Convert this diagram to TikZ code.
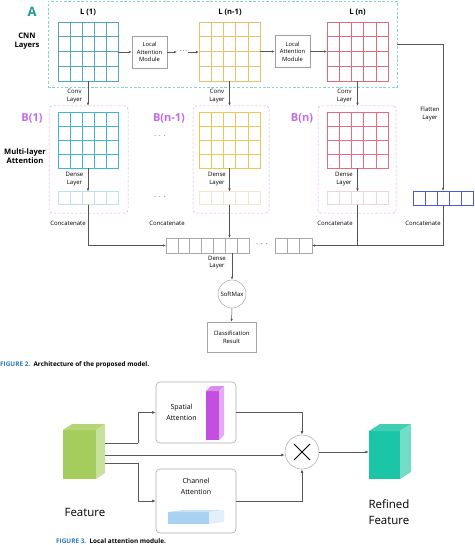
\documentclass[tikz,border=0pt]{standalone}
\usepackage{fontspec}
\setmainfont{Open Sans}
\usetikzlibrary{arrows.meta,calc}
\definecolor{tealA}{HTML}{1A9E8A}
\definecolor{tealdash}{HTML}{8AD3CB}
\definecolor{pinkdash}{HTML}{E3A6EC}
\definecolor{violetB}{HTML}{C26BE6}
\definecolor{cLa}{HTML}{55A7B8}
\definecolor{cLb}{HTML}{E6C270}
\definecolor{cLc}{HTML}{DC6D7B}
\definecolor{cBa}{HTML}{3FB6D4}
\definecolor{cBb}{HTML}{F0C652}
\definecolor{cBc}{HTML}{E86B80}
\definecolor{cDa}{HTML}{BFE1EE}
\definecolor{cDb}{HTML}{F5E6CE}
\definecolor{cDc}{HTML}{F1D3DD}
\definecolor{cFlat}{HTML}{4A5AD2}
\definecolor{cCat}{HTML}{A8A8A8}
\definecolor{capblue}{HTML}{2A78B8}
\definecolor{lineg}{HTML}{555555}
\definecolor{featF}{HTML}{A5CD5E}
\definecolor{featT}{HTML}{B5D676}
\definecolor{featS}{HTML}{C8E29C}
\definecolor{refF}{HTML}{1BC6A6}
\definecolor{refT}{HTML}{40CFB3}
\definecolor{refS}{HTML}{72DCC7}
\definecolor{purF}{HTML}{C24FE0}
\definecolor{purT}{HTML}{D88CF0}
\definecolor{purS}{HTML}{E4A9F4}
\definecolor{bluF}{HTML}{A9D2F2}
\definecolor{bluT}{HTML}{C8E2F7}
\definecolor{bluS}{HTML}{E4EFFB}
\newcommand\mkgrid[9]{%
  \node[draw=#8, line width=#9, minimum width=#4pt, minimum height=#5pt, inner sep=0pt, outer sep=0pt] (#1) at (#2,#3) {};
  \foreach \i in {1,...,#6}{\draw[#8, line width=#9] ($(#1.north west)!\i/#6!(#1.north east)$) -- ($(#1.south west)!\i/#6!(#1.south east)$);}
  \foreach \j in {1,...,#7}{\draw[#8, line width=#9] ($(#1.north west)!\j/#7!(#1.south west)$) -- ($(#1.north east)!\j/#7!(#1.south east)$);}
}
\tikzset{
  arr/.style={draw=lineg, line width=0.5pt, -{Latex[length=3pt,width=2.4pt]}},
  plain/.style={draw=lineg, line width=0.5pt},
  small/.style={font=\fontsize{6}{7.6}\selectfont, align=center, inner sep=0.5pt},
  lbl/.style={font=\bfseries\fontsize{7.6}{9.2}\selectfont, align=center, inner sep=0pt},
  blbl/.style={font=\bfseries\fontsize{11}{11}\selectfont, text=violetB, inner sep=0pt},
  lam/.style={draw=gray!75, fill=white, line width=0.5pt, align=center, minimum width=35pt, minimum height=32pt, inner sep=0pt, font=\fontsize{5.8}{7.6}\selectfont},
  pinkbox/.style={draw=pinkdash, dashed, dash pattern=on 2.5pt off 1.8pt, line width=0.5pt, rounded corners=3pt, minimum height=107pt, inner sep=0pt},
  rbox/.style={draw=gray!65, line width=0.6pt, rounded corners=4pt, fill=white, inner sep=0pt},
  barr/.style={draw=black!65, line width=0.6pt, -{Latex[length=3.5pt,width=2.8pt]}},
  bline/.style={draw=black!65, line width=0.6pt},
  dotsn/.style={font=\fontsize{6}{6}\selectfont, inner sep=0.5pt},
  captxt/.style={font=\bfseries\fontsize{6.4}{7}\selectfont, inner sep=0pt},
}
\begin{document}
\begin{tikzpicture}[x=1pt,y=-1pt]
\useasboundingbox (0,0) rectangle (474,545);
% ---------- CNN layers ----------
\node[draw=tealdash, dashed, dash pattern=on 2.5pt off 1.8pt, line width=0.5pt, minimum width=349pt, minimum height=86pt, inner sep=0pt] (boxA) at (222.5,44) {};
\node[font=\bfseries\fontsize{13}{13}\selectfont, text=tealA, inner sep=0pt] (lblA) at (32,12) {A};
\node[lbl] (cnn) at (27,41) {CNN\\Layers};
\node[lbl] (tL1) at (88,12) {L (1)};
\node[lbl] (tLn1) at (230,12) {L (n-1)};
\node[lbl] (tLn) at (357.5,12) {L (n)};
\mkgrid{L1}{88}{51.5}{60}{59}{5}{4}{cLa}{0.6pt}
\mkgrid{Ln1}{229.5}{51.5}{61}{59}{5}{4}{cLb}{0.6pt}
\mkgrid{Ln}{357.5}{51.5}{61}{59}{5}{4}{cLc}{0.6pt}
\node[lam] (LAM1) at (149.5,52) {Local\\Attention\\Module};
\node[lam] (LAM2) at (292.5,51.5) {Local\\Attention\\Module};
\draw[arr] (L1.east |- LAM1) -- (LAM1.west);
\coordinate (d1) at (177,52);
\node[dotsn] (dots1) at (183.5,51) {.\,.\,.};
\draw[arr] (LAM1.east) -- (d1);
\draw[arr] (dots1.east |- d1) -- (Ln1.west |- d1);
\draw[arr] (Ln1.east |- LAM2) -- (LAM2.west);
\draw[arr] (LAM2.east) -- (Ln.west |- LAM2);
% ---------- Multi-layer attention ----------
\node[pinkbox, minimum width=79pt] (B1box) at (88.5,159.5) {};
\node[pinkbox, minimum width=76pt] (Bn1box) at (231,159.5) {};
\node[pinkbox, minimum width=78pt] (Bnbox) at (357,159.5) {};
\node[blbl] (tB1) at (32,118) {B(1)};
\node[blbl] (tBn1) at (169,118) {B(n-1)};
\node[blbl] (tBn) at (302,118) {B(n)};
\node[lbl] (mla) at (25,156.5) {Multi-layer\\Attention};
\mkgrid{B1}{88}{140}{60}{56}{5}{4}{cBa}{0.6pt}
\mkgrid{Bn1}{229.5}{140}{61}{56}{5}{4}{cBb}{0.6pt}
\mkgrid{Bn}{357.5}{140}{61}{56}{5}{4}{cBc}{0.6pt}
\mkgrid{B1d}{88}{198}{60}{13}{5}{1}{cDa}{0.6pt}
\mkgrid{Bn1d}{229.5}{198}{61}{13}{5}{1}{cDb}{0.6pt}
\mkgrid{Bnd}{357.5}{198}{61}{13}{5}{1}{cDc}{0.6pt}
\mkgrid{flat}{443}{198}{60}{14}{5}{1}{cFlat}{0.7pt}
\node[dotsn] (dotsA) at (160,136) {.\;\;.\;\;.};
\node[dotsn] (dotsB) at (160,197) {.\;\;.\;\;.};
% conv arrows
\draw[arr] (L1.south) -- (L1.south |- B1box.north);
\draw[arr] (Ln1.south) -- (Ln1.south |- Bn1box.north);
\draw[arr] (Ln.south) -- (Ln.south |- Bnbox.north);
\node[small] (cv1) at (74.5,96) {Conv\\Layer};
\node[small] (cv2) at (217,96) {Conv\\Layer};
\node[small] (cv3) at (344.5,96) {Conv\\Layer};
% flatten
\draw[arr] (boxA.east) -| (flat.north);
\node[small] (fl) at (430,114) {Flatten\\Layer};
% dense arrows
\draw[arr] (B1.south) -- (B1d.north);
\draw[arr] (Bn1.south) -- (Bn1d.north);
\draw[arr] (Bn.south) -- (Bnd.north);
\node[small] (dl1) at (74.5,179) {Dense\\Layer};
\node[small] (dl2) at (217,179) {Dense\\Layer};
\node[small] (dl3) at (344,179) {Dense\\Layer};
% ---------- concatenation ----------
\mkgrid{cat1}{207.5}{245.5}{83}{15}{7}{1}{cCat}{0.6pt}
\mkgrid{cat2}{293.5}{245.5}{37}{15}{3}{1}{cCat}{0.6pt}
\node[dotsn] (dotsC) at (262,244.5) {.\;\;.\;\;.};
\node[small] (cc1) at (68,223) {Concatenate};
\node[small] (cc2) at (167,223) {Concatenate};
\node[small] (cc3) at (335,223) {Concatenate};
\node[small] (cc4) at (423,223) {Concatenate};
\draw[arr] (B1d.south) |- (cat1.west);
\draw[arr] (Bn1d.south) -- (Bn1d.south |- cat1.north);
\draw[arr] (flat.south) |- (cat2.east);
\draw[plain] (Bnd.south) -- (Bnd.south |- cat2.east);
% ---------- softmax & result ----------
\node[circle, draw=gray!70, line width=0.5pt, minimum size=28pt, inner sep=0pt, font=\fontsize{6}{6}\selectfont] (sm) at (232,294) {SoftMax};
\draw[arr] (cat1.south -| sm) -- (sm.north);
\node[small] (dl4) at (217,262.5) {Dense\\Layer};
\node[draw=gray!70, line width=0.5pt, minimum width=49pt, minimum height=30pt, inner sep=0pt, align=center, font=\fontsize{5.9}{8}\selectfont] (cls) at (231.5,337) {Classification\\Result};
\draw[arr] (sm.south) -- (cls.north);
\node[captxt, anchor=west] (cap2) at (0,365) {\textcolor{capblue}{FIGURE 2.}\ \ Architecture of the proposed model.};
% ---------- local attention module ----------
% feature cube
\fill[featF] (63,430) rectangle (96,479);
\fill[featT] (63,430) -- (72,424) -- (105,424) -- (96,430) -- cycle;
\fill[featS] (96,430) -- (105,424) -- (105,473) -- (96,479) -- cycle;
\node[inner sep=0pt, minimum width=42pt, minimum height=55pt] (feat) at (84,451.5) {};
\node[font=\fontsize{11.5}{14}\selectfont, inner sep=0pt] (tfeat) at (85,512) {Feature};
% refined cube
\fill[refF] (369,431) rectangle (400,479);
\fill[refT] (369,431) -- (380,424) -- (411,424) -- (400,431) -- cycle;
\fill[refS] (400,431) -- (411,424) -- (411,472) -- (400,479) -- cycle;
\node[inner sep=0pt, minimum width=31pt, minimum height=48pt] (ref) at (384.5,455) {};
\node[font=\fontsize{11.5}{16}\selectfont, align=center, inner sep=0pt] (tref) at (389,512) {Refined\\Feature};
% attention boxes
\node[rbox, minimum width=80pt, minimum height=61pt] (spa) at (196,412.5) {};
\node[font=\fontsize{7}{11}\selectfont, align=center, inner sep=0pt] (tspa) at (181.5,412.5) {Spatial\\Attention};
\fill[purF] (206,391) rectangle (219,440);
\fill[purT] (206,391) -- (211,386) -- (224,386) -- (219,391) -- cycle;
\fill[purS] (219,391) -- (224,386) -- (224,435) -- (219,440) -- cycle;
\node[rbox, minimum width=80pt, minimum height=64pt] (cha) at (196,501) {};
\node[font=\fontsize{7}{11}\selectfont, align=center, inner sep=0pt] (tcha) at (196,486.5) {Channel\\Attention};
\fill[bluF] (168,512) rectangle (209,524);
\fill[bluT] (168,512) -- (183,510) -- (224,510) -- (209,512) -- cycle;
\fill[bluS] (209,512) -- (224,510) -- (224,522) -- (209,524) -- cycle;
% multiply
\node[circle, draw=gray!60, line width=0.6pt, fill=white, minimum size=34pt, inner sep=0pt] (mul) at (302,452) {};
\draw[line width=0.9pt] ($(mul.center)+(-8,-8)$) -- ($(mul.center)+(8,8)$);
\draw[line width=0.9pt] ($(mul.center)+(-8,8)$) -- ($(mul.center)+(8,-8)$);
% connectors
\coordinate (f1) at (105,443);
\coordinate (f2) at (105,455);
\coordinate (f3) at (105,463);
\coordinate (k1) at (138,443);
\coordinate (k3) at (138,463);
\draw[bline] (f1) -- (k1);
\draw[barr] (k1) |- (spa.west);
\draw[barr] (f2) -- (f2 -| mul.west);
\draw[bline] (f3) -- (k3);
\draw[barr] (k3) |- (cha.west);
\draw[barr] (spa.east) -| (mul.north);
\draw[barr] (cha.east) -| (mul.south);
\draw[barr] (mul.east) -- (mul.east -| ref.west);
\node[captxt, anchor=base west] (cap3) at (56,543.5) {\textcolor{capblue}{FIGURE 3.}\ \ Local attention module.};
\end{tikzpicture}
\end{document}
